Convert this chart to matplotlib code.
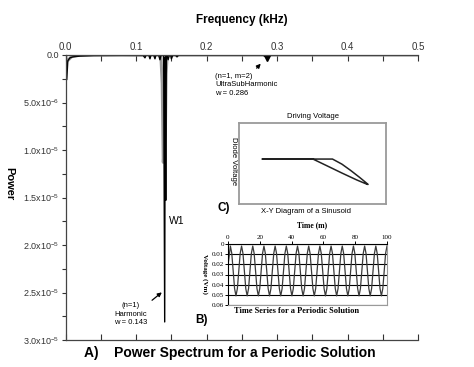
import matplotlib
matplotlib.use("Agg")
import matplotlib.pyplot as plt
import numpy as np

plt.rcParams['font.family'] = ['Liberation Sans', 'DejaVu Sans']
plt.rcParams['mathtext.default'] = 'regular'

# power spectrum, dark series (kHz, power)
freq_black = [0.0, 0.0015, 0.003, 0.006, 0.01, 0.02, 0.04, 0.08, 0.11, 0.1125, 0.114,
              0.118, 0.1196, 0.121, 0.125, 0.1267, 0.128, 0.132, 0.1338, 0.135, 0.139,
              0.1405, 0.1412, 0.1420, 0.1428, 0.144, 0.1453, 0.147, 0.149, 0.150, 0.152,
              0.156, 0.158, 0.16, 0.2, 0.28, 0.286, 0.29, 0.5]
power_black = [0.0, 2.6e-6, 6e-7, 3e-7, 2e-7, 1.2e-7, 6e-8, 4e-8, 5e-8, 3e-7, 3e-8,
               3e-8, 4e-7, 3e-8, 3e-8, 4e-7, 3e-8, 4e-8, 5e-7, 5e-8, 5e-8,
               2.81e-5, 2e-7, 1.53e-5, 1e-7, 5e-8, 5e-7, 5e-8, 5e-8, 4e-7, 4e-8,
               4e-8, 2e-7, 3e-8, 2e-8, 1e-8, 3e-7, 1e-8, 0.0]
# power spectrum, grey series
freq_grey = [0.0, 0.001, 0.004, 0.008, 0.012, 0.02, 0.135, 0.137, 0.1385, 0.1395,
             0.1415, 0.1425, 0.144, 0.5]
power_grey = [0.0, 7e-7, 5e-7, 2e-7, 1e-7, 0.0, 0.0, 3e-6, 1.13e-5, 1.0e-5,
              8e-6, 2e-6, 0.0, 0.0]
usub_freq = 0.286
usub_power = 3e-7

y_ticks = [0.0, 5e-6, 1e-5, 1.5e-5, 2e-5, 2.5e-5, 3e-5]
y_tick_labels = ['0.0', '5.0x10$^{-6}$', '1.0x10$^{-5}$', '1.5x10$^{-5}$',
                 '2.0x10$^{-5}$', '2.5x10$^{-5}$', '3.0x10$^{-5}$']
x_ticks = [0.0, 0.1, 0.2, 0.3, 0.4, 0.5]

# inset B: time series
time_vals = [0.0] + list(np.linspace(1.5, 100, 113))
volt_vals = [0.021,
             0.002, 0.0093, 0.0265, 0.0438, 0.051, 0.0438, 0.0265, 0.0093,
             0.002, 0.0093, 0.0265, 0.0438, 0.051, 0.0438, 0.0265, 0.0093,
             0.002, 0.0093, 0.0265, 0.0438, 0.051, 0.0438, 0.0265, 0.0093,
             0.002, 0.0093, 0.0265, 0.0438, 0.051, 0.0438, 0.0265, 0.0093,
             0.002, 0.0093, 0.0265, 0.0438, 0.051, 0.0438, 0.0265, 0.0093,
             0.002, 0.0093, 0.0265, 0.0438, 0.051, 0.0438, 0.0265, 0.0093,
             0.002, 0.0093, 0.0265, 0.0438, 0.051, 0.0438, 0.0265, 0.0093,
             0.002, 0.0093, 0.0265, 0.0438, 0.051, 0.0438, 0.0265, 0.0093,
             0.002, 0.0093, 0.0265, 0.0438, 0.051, 0.0438, 0.0265, 0.0093,
             0.002, 0.0093, 0.0265, 0.0438, 0.051, 0.0438, 0.0265, 0.0093,
             0.002, 0.0093, 0.0265, 0.0438, 0.051, 0.0438, 0.0265, 0.0093,
             0.002, 0.0093, 0.0265, 0.0438, 0.051, 0.0438, 0.0265, 0.0093,
             0.002, 0.0093, 0.0265, 0.0438, 0.051, 0.0438, 0.0265, 0.0093,
             0.002, 0.0093, 0.0265, 0.0438, 0.051, 0.0438, 0.0265, 0.0093,
             0.002]
time_ticks = [0, 20, 40, 60, 80, 100]
volt_ticks = [0, 0.01, 0.02, 0.03, 0.04, 0.05, 0.06]
volt_tick_labels = ['0', '0.01', '0.02', '0.03', '0.04', '0.05', '0.06']

# inset C: X-Y diagram
drive_v = [0.16, 0.636, 0.70, 0.76, 0.82, 0.86, 0.878, 0.87, 0.80, 0.70, 0.60, 0.503, 0.16]
diode_v = [0.0, 0.0, 0.20, 0.45, 0.72, 0.91, 1.0, 0.99, 0.82, 0.55, 0.27, 0.0, 0.0]

W, H = 474, 367


def fx(px):
    return px / W


def fy(py):
    return 1 - py / H


fig = plt.figure(figsize=(4.74, 3.67), dpi=100)

# main spectrum axes (picture is shown flipped: zero power at top)
ax = fig.add_axes([fx(65.7), fy(340), fx(418) - fx(65.7), fy(55) - fy(340)])
ax.plot(freq_grey, power_grey, color='#9a9a9a', lw=2.2)
ax.plot(freq_black, power_black, color='black', lw=1.0)
ax.plot([usub_freq], [usub_power], marker='v', color='black', markersize=4, lw=0)
ax.set_xlim(0, 0.5)
ax.set_ylim(3.0e-5, 0)
ax.set_xticks(x_ticks)
ax.set_xticklabels(['0.0', '0.1', '0.2', '0.3', '0.4', '0.5'])
ax.set_xticks(np.arange(0.05, 0.5, 0.1), minor=True)
ax.set_yticks(y_ticks)
ax.set_yticklabels(y_tick_labels)
ax.set_yticks(np.arange(2.5e-6, 3e-5, 5e-6), minor=True)
ax.xaxis.tick_top()
ax.tick_params(axis='x', which='both', top=True, bottom=True, labeltop=True,
               labelbottom=False, direction='in', length=4, width=0.8,
               labelsize=7, pad=2, colors='#333333')
ax.tick_params(axis='y', which='both', direction='out', length=3, width=0.8,
               labelsize=6.5, pad=2, colors='#333333')
for s in ['top', 'bottom', 'left']:
    ax.spines[s].set_color('#444444')
    ax.spines[s].set_linewidth(0.9)
ax.spines['right'].set_visible(False)
ax.set_xlabel('Frequency (kHz)', fontsize=8.5, fontweight='bold')
ax.xaxis.set_label_position('top')
ax.xaxis.set_label_coords(0.5, 1 + 32 / 285)
ax.set_ylabel('Power', fontsize=8, fontweight='bold', rotation=270, va='center')
ax.yaxis.set_label_coords(-0.16, 0.547)

fig.text(fx(230), fy(353), 'A)    Power Spectrum for a Periodic Solution',
         ha='center', va='center', fontsize=10, fontweight='bold')

# annotations
fig.text(fx(177), fy(221), 'W1', ha='center', va='center', fontsize=7.5)
fig.text(fx(131), fy(314), '(n=1)\nHarmonic\nw = 0.143', ha='center', va='center',
         fontsize=5.5, linespacing=1.3)
ax.annotate('', xy=(0.1395, 2.48e-5), xytext=(0.1195, 2.6e-5),
            arrowprops=dict(arrowstyle='-|>', color='black', lw=0.9, mutation_scale=6))
fig.text(fx(215), fy(85), '(n=1, m=2)\nUltraSubHarmonic\nw = 0.286', ha='left',
         va='center', fontsize=5.5, linespacing=1.3)
ax.annotate('', xy=(0.2795, 7e-7), xytext=(0.2683, 1.6e-6),
            arrowprops=dict(arrowstyle='-|>', color='black', lw=0.9, mutation_scale=6))

# inset C
axc = fig.add_axes([fx(239), fy(204), fx(386) - fx(239), fy(123) - fy(204)])
axc.plot(drive_v, diode_v, color='#222222', lw=1.1)
axc.set_xlim(0, 1)
axc.set_ylim(1.77, -1.42)
axc.set_xticks([])
axc.set_yticks([])
for s in axc.spines.values():
    s.set_color('#9a9a9a')
    s.set_linewidth(1.3)
fig.text(fx(313), fy(116), 'Driving Voltage', ha='center', va='center', fontsize=5.5)
fig.text(fx(233), fy(161), 'Diode Voltage', ha='center', va='center', fontsize=5.5,
         rotation=270)
fig.text(fx(306), fy(211), 'X-Y Diagram of a Sinusoid', ha='center', va='center',
         fontsize=5.5)
fig.text(fx(224), fy(208), 'C)', ha='center', va='center', fontsize=8.5,
         fontweight='bold')

# inset B
serif = ['Liberation Serif', 'DejaVu Serif']
axb = fig.add_axes([fx(228), fy(305), fx(387) - fx(228), fy(244) - fy(305)])
axb.plot(time_vals, volt_vals, color='#3a3a3a', lw=0.9)
axb.set_xlim(0, 100)
axb.set_ylim(0.06, 0)
axb.set_xticks(time_ticks)
axb.set_yticks(volt_ticks)
axb.set_yticklabels(volt_tick_labels)
axb.xaxis.tick_top()
axb.grid(axis='y', color='black', lw=0.8)
axb.tick_params(axis='both', direction='out', length=2, width=0.7, labelsize=5,
                pad=1)
for lab in axb.get_xticklabels() + axb.get_yticklabels():
    lab.set_family(serif)
for s in ['top', 'left']:
    axb.spines[s].set_color('black')
    axb.spines[s].set_linewidth(0.8)
for s in ['bottom', 'right']:
    axb.spines[s].set_color('#9a9a9a')
    axb.spines[s].set_linewidth(0.8)
fig.text(fx(312), fy(225), 'Time (m)', ha='center', va='center', fontsize=5.5,
         fontweight='bold', family=serif)
fig.text(fx(205), fy(274), 'Voltage (Vm)', ha='center', va='center', fontsize=5,
         fontweight='bold', family=serif, rotation=270)
fig.text(fx(297), fy(311), 'Time Series for a Periodic Solution', ha='center',
         va='center', fontsize=6, fontweight='bold', family=serif)
fig.text(fx(201), fy(320), 'B)', ha='center', va='center', fontsize=8.5,
         fontweight='bold')

fig.savefig('out.png', dpi=100)
